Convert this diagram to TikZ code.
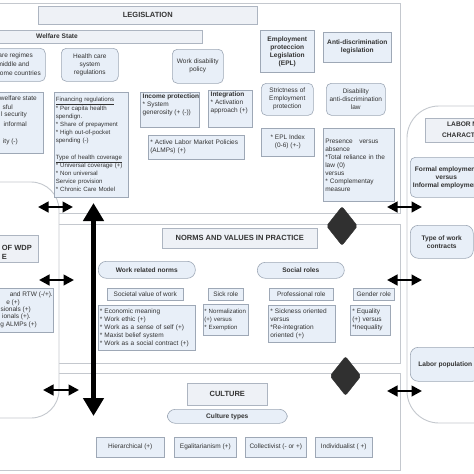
\documentclass[tikz,border=0pt]{standalone}
\usepackage{fontspec}
\setmainfont{Liberation Sans}
\usetikzlibrary{arrows.meta,shapes.geometric}
\newcommand\fs{\fontsize{6.5}{8}\selectfont}
\newcommand\fss{\fontsize{6.1}{8.2}\selectfont}
\newcommand\fsb{\fontsize{6.6}{8}\selectfont\bfseries}
\newcommand\fst{\fontsize{7.5}{8.5}\selectfont\bfseries}
\definecolor{outerc}{HTML}{C4C8CE}
\definecolor{boxfill}{HTML}{E8EFF8}
\definecolor{boxdraw}{HTML}{9EA8B6}
\definecolor{titlefill}{HTML}{EEF1F6}
\definecolor{txt}{HTML}{333333}
\definecolor{dk}{HTML}{303030}
\tikzset{
 base/.style={font=\fs, text=txt, inner sep=2pt},
 outerbox/.style={draw=outerc, line width=0.9pt},
 titlebox/.style={base, draw=boxdraw!85, fill=titlefill, line width=0.6pt, font=\fst, anchor=north west, align=center},
 rbox/.style={base, draw=boxdraw, fill=boxfill, rounded corners=5pt, line width=0.6pt, anchor=north west, align=center},
 sbox/.style={base, draw=boxdraw, fill=boxfill, line width=0.6pt, anchor=north west, align=center},
 lbox/.style={sbox, align=left},
 pill/.style={rbox, rounded corners=8pt, font=\fsb},
 lbl/.style={base, inner sep=0pt},
 harrow/.style={draw=black, line width=2.8pt, {Triangle[width=10.5pt,length=10.5pt]}-{Triangle[width=10.5pt,length=10.5pt]}},
 varrow/.style={draw=black, line width=5.8pt, {Triangle[width=20pt,length=18pt]}-{Triangle[width=20pt,length=18pt]}},
 dia/.style={diamond, fill=dk, draw=dk, minimum width=31pt, minimum height=39pt, inner sep=0pt, rounded corners=2pt},
}
\begin{document}
\hyphenpenalty=10000 \exhyphenpenalty=10000
\begin{tikzpicture}[x=1pt,y=-1pt]
\useasboundingbox (0,0) rectangle (474,474);
\clip (0,0) rectangle (474,474);
\fill[white] (0,0) rectangle (474,474);
% outer regions
\draw[outerbox] (-10,3) rectangle (400,213);
\draw[outerbox] (-10,224) rectangle (400,363);
\draw[outerbox] (-10,373) rectangle (400,470);
\draw[outerbox, fill=white, rounded corners=28pt] (-40,182) rectangle (59,418);
\draw[outerbox, fill=white, rounded corners=32pt] (407,106) rectangle (520,423);
% LEGISLATION
\node[titlebox, minimum width=219, minimum height=18] (leg) at (38,6) {LEGISLATION};
\node[titlebox, minimum width=212, minimum height=13] (ws) at (-10,30) {};
\node[lbl, font=\fsb] (wst) at (57,36.5) {Welfare State};
\node[rbox, minimum width=55, minimum height=33] (wr) at (-10,48) {};
\node[lbl, anchor=east] (wr1) at (33,56) {are regimes};
\node[lbl, anchor=east] (wr2) at (29.5,64.5) {middle and};
\node[lbl, anchor=east] (wr3) at (41,73) {ome countries};
\node[rbox, minimum width=57, minimum height=33] (hc) at (61,48) {Health care\\system\\regulations};
\node[rbox, minimum width=51, minimum height=34] (wdp) at (172,49) {Work disability\\policy};
\node[sbox, font=\fsb, minimum width=54, minimum height=42] (epl) at (260,30) {Employment\\proteccion\\Legislation\\(EPL)};
\node[sbox, font=\fsb, minimum width=68, minimum height=30] (adl) at (323,32) {Anti-discrimination\\legislation};
\node[rbox, minimum width=52, minimum height=32] (sep) at (261,83) {Strictness of\\Employment\\protection};
\node[rbox, minimum width=59, minimum height=32] (dadl) at (326,83) {Disability\\anti-discrimination\\law};
\node[sbox, minimum width=53, minimum height=61] (wsl) at (-10,92) {};
\node[lbl, anchor=east] (wsl1) at (37,98) {welfare state};
\node[lbl, anchor=east] (wsl2) at (13,107) {sful};
\node[lbl, anchor=east] (wsl3) at (27,115) {l security};
\node[lbl, anchor=east] (wsl4) at (27,124) {informal};
\node[lbl, anchor=east] (wsl5) at (18,142) {ity (-)};
\node[lbox, font=\fss, text width=71, inner sep=1.5pt, minimum height=105] (fin) at (54,92) {\underline{Financing regulations}\\{*} Per capita health\\spendign.\\{*} Share of prepayment\\{*} High out-of-pocket\\spending (-)\\[8pt]\underline{Type of health coverage}\\{*} Universal coverage (+)\\{*} Non universal\\Service provision\\{*} Chronic Care Model};
\node[sbox, minimum width=59, minimum height=35] (inc) at (140,92) {};
\node[lbl, anchor=north west, align=left] (inct) at (142.5,93.5) {\textbf{Income protection}\\{*} System\\generosity (+ (-))};
\node[sbox, minimum width=44, minimum height=37] (integ) at (208,90) {};
\node[lbl, anchor=north west, align=left] (integt) at (210.5,91.5) {\textbf{Integration}\\{*} Activation\\approach (+)};
\node[lbox, text width=92, minimum height=24] (alm) at (148,135) {{*} Active Labor Market Policies\\(ALMPs) (+)};
\node[sbox, minimum width=53, minimum height=28] (epli) at (261,128) {{*} EPL Index\\(0-6) (+-)};
\node[lbox, text width=67, minimum height=73] (pres) at (323,128) {Presence \ \ versus\\absence\\{*}Total reliance in the\\law (0)\\versus\\{*} Complementay\\measure};
% LABOR side
\node[titlebox, minimum width=80, minimum height=24] (lab) at (425,118) {};
\node[lbl, font=\fsb, anchor=west] (lab1) at (447,124) {LABOR MARKET};
\node[lbl, font=\fsb, anchor=west] (lab2) at (442,135) {CHARACTERISTICS};
\node[rbox, font=\fsb, minimum width=72, minimum height=40] (form) at (410,157) {Formal employment\\versus\\Informal employment};
\node[rbox, font=\fsb, minimum width=63, minimum height=33, rounded corners=8pt] (twc) at (410,225) {Type of work\\contracts};
\node[rbox, font=\fsb, minimum width=70, minimum height=34, rounded corners=8pt] (lp) at (410,347) {Labor population};
% WDP side
\node[titlebox, minimum width=48, minimum height=27] (wdpt) at (-10,235) {};
\node[lbl, font=\fst, anchor=east] (wdpt1) at (32,248) {OF WDP};
\node[lbl, font=\fst, anchor=east] (wdpt2) at (7,257) {E};
\node[sbox, minimum width=63, minimum height=44] (wdpl) at (-10,288) {};
\node[lbl, anchor=east] (wdpl1) at (53,295) {and RTW (-/+).};
\node[lbl, anchor=east] (wdpl2) at (20,302.5) {e (+)};
\node[lbl, anchor=east] (wdpl3) at (31,310) {sionals (+)};
\node[lbl, anchor=east] (wdpl4) at (31,317) {ionals (+).};
\node[lbl, anchor=east] (wdpl5) at (37,324.5) {g ALMPs (+)};
% NORMS
\node[titlebox, minimum width=155, minimum height=20] (norms) at (162,228) {NORMS AND VALUES IN PRACTICE};
\node[pill, minimum width=97, minimum height=17] (wrn) at (98,261) {Work related norms};
\node[pill, minimum width=87, minimum height=16] (sr) at (257,262) {Social roles};
\node[sbox, minimum width=76, minimum height=12, inner sep=1pt] (svw) at (107,288) {Societal value of work};
\node[sbox, minimum width=35, minimum height=12, inner sep=1pt] (sick) at (208,288) {Sick role};
\node[sbox, minimum width=64, minimum height=12, inner sep=1pt] (prof) at (269,288) {Professional role};
\node[sbox, minimum width=41, minimum height=12, inner sep=1pt] (gend) at (353,288) {Gender role};
\node[lbox, text width=94, inner sep=1.5pt, minimum height=45] (ecl) at (98,305) {{*} Economic meaning\\{*} Work ethic (+)\\{*} Work as a sense of self (+)\\{*} Maxist belief system\\{*} Work as a social contract (+)};
\node[lbox, font=\fss, text width=43, inner sep=1pt, minimum height=31] (sickl) at (203,304) {{*} Normalization\\(+) versus\\{*} Exemption};
\node[lbox, text width=63, minimum height=37] (profl) at (268,305) {{*} Sickness oriented\\versus\\{*}Re-integration\\oriented (+)};
\node[lbox, text width=36, minimum height=30] (gendl) at (350,305) {{*} Equality\\(+) versus\\{*}Inequality};
% CULTURE
\node[titlebox, minimum width=80, minimum height=22] (cult) at (187,383) {CULTURE};
\node[pill, minimum width=120, minimum height=14, inner sep=1pt] (ctyp) at (167,409) {Culture types};
\node[sbox, minimum width=68, minimum height=20] (hier) at (96,437) {Hierarchical (+)};
\node[sbox, minimum width=62, minimum height=20] (egal) at (174,437) {Egalitarianism (+)};
\node[sbox, minimum width=61, minimum height=20] (coll) at (245,437) {Collectivist (- or +)};
\node[sbox, minimum width=57, minimum height=20] (indi) at (315,437) {Individualist ( +)};
% arrows
\coordinate (vt) at (93.5,203);
\coordinate (vb) at (93.5,416);
\draw[varrow] (vt) -- (vb);
\coordinate (la1) at (38,207); \coordinate (lb1) at (73,207);
\coordinate (la2) at (39,280); \coordinate (lb2) at (74,280);
\coordinate (la3) at (43,390); \coordinate (lb3) at (79,390);
\coordinate (ra1) at (387,207); \coordinate (rb1) at (422,207);
\coordinate (ra2) at (387,280); \coordinate (rb2) at (422,280);
\coordinate (ra3) at (387,391); \coordinate (rb3) at (422,391);
\draw[harrow] (la1) -- (lb1);
\draw[harrow] (la2) -- (lb2);
\draw[harrow] (la3) -- (lb3);
\draw[harrow] (ra1) -- (rb1);
\draw[harrow] (ra2) -- (rb2);
\draw[harrow] (ra3) -- (rb3);
\node[dia] (d1) at (342,226) {};
\node[dia] (d2) at (345.5,376) {};
\end{tikzpicture}
\end{document}
